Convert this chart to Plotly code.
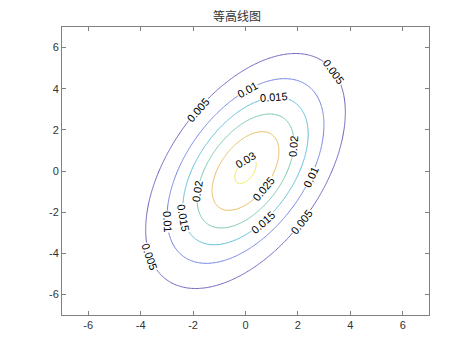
import numpy as np
import plotly.graph_objects as go

# Distribution parameters (bivariate normal)
mu = [0.0, 0.0]
sigma = [[4.0, 3.0], [3.0, 9.0]]

# Contour levels and their line colours
levels = [0.005, 0.01, 0.015, 0.02, 0.025, 0.03]
level_labels = ["0.005", "0.01", "0.015", "0.02", "0.025", "0.03"]
level_colors = ["#6c64bf", "#7483e4", "#5cbedb", "#78c9ad", "#e9bd62", "#efeb5a"]

# Where along each contour (angle in the whitened frame, degrees) a label sits
label_angles = [
    [118.5, 27.6, -55.8, 196.8],
    [88.9, -33.6, 183.0],
    [63.2, -73.4, 189.2],
    [-4.4, 171.0],
    [-57.4],
    [90.0],
]

# Axis ticks
tick_vals = [-6, -4, -2, 0, 2, 4, 6]
tick_text = ["-6", "-4", "-2", "0", "2", "4", "6"]

# Evaluation grid
gx = np.linspace(-7, 7, 281)
gy = np.linspace(-7, 7, 281)
X, Y = np.meshgrid(gx, gy)
S = np.array(sigma)
Si = np.linalg.inv(S)
Lc = np.linalg.cholesky(S)
dx = X - mu[0]
dy = Y - mu[1]
q = Si[0, 0] * dx * dx + 2 * Si[0, 1] * dx * dy + Si[1, 1] * dy * dy
peak = 1.0 / (2 * np.pi * np.sqrt(np.linalg.det(S)))
Z = peak * np.exp(-0.5 * q)

# plot-area geometry (for label orientation)
W, H = 474, 355
ML, MR, MT, MB = 62, 45, 27, 40
sx = (W - ML - MR) / 14.0
sy = (H - MT - MB) / 14.0

fig = go.Figure()
annotations = []
for lev, lab, col, angs in zip(levels, level_labels, level_colors, label_angles):
    fig.add_trace(go.Contour(
        x=gx, y=gy, z=Z,
        autocontour=False,
        contours=dict(start=lev, end=lev, size=1, coloring="lines", showlabels=False),
        colorscale=[[0, col], [1, col]],
        showscale=False,
        line=dict(width=1),
        hoverinfo="skip",
    ))
    r = np.sqrt(2 * np.log(peak / lev))
    for a in angs:
        t = np.deg2rad(a)
        u = np.array([np.cos(t), np.sin(t)])
        du = np.array([-np.sin(t), np.cos(t)])
        p = np.array(mu) + r * Lc @ u
        d = Lc @ du
        ang = np.degrees(np.arctan2(-d[1] * sy, d[0] * sx))
        while ang > 90:
            ang -= 180
        while ang <= -90:
            ang += 180
        annotations.append(dict(
            x=p[0], y=p[1], xref="x", yref="y", text=lab, showarrow=False,
            textangle=ang, bgcolor="white", borderpad=0,
            font=dict(family="Liberation Sans, Arial", size=11, color="black"),
        ))

axis_common = dict(
    range=[-7, 7], tickvals=tick_vals, ticktext=tick_text,
    ticks="inside", ticklen=4, tickcolor="#808080",
    showline=True, linecolor="#808080", linewidth=1, mirror="ticks",
    showgrid=False, zeroline=False,
    tickfont=dict(family="Liberation Sans, Arial", size=11, color="#333333"),
)

fig.update_layout(
    width=W, height=H,
    margin=dict(l=ML, r=MR, t=MT, b=MB),
    paper_bgcolor="white", plot_bgcolor="white",
    title=dict(text="等高线图", x=0.5, xanchor="center", y=0.952, yanchor="middle",
               font=dict(family="Noto Sans CJK SC", size=12, color="#333333")),
    xaxis=axis_common,
    yaxis=axis_common,
    showlegend=False,
    annotations=annotations,
)

fig.write_html("out.html")
